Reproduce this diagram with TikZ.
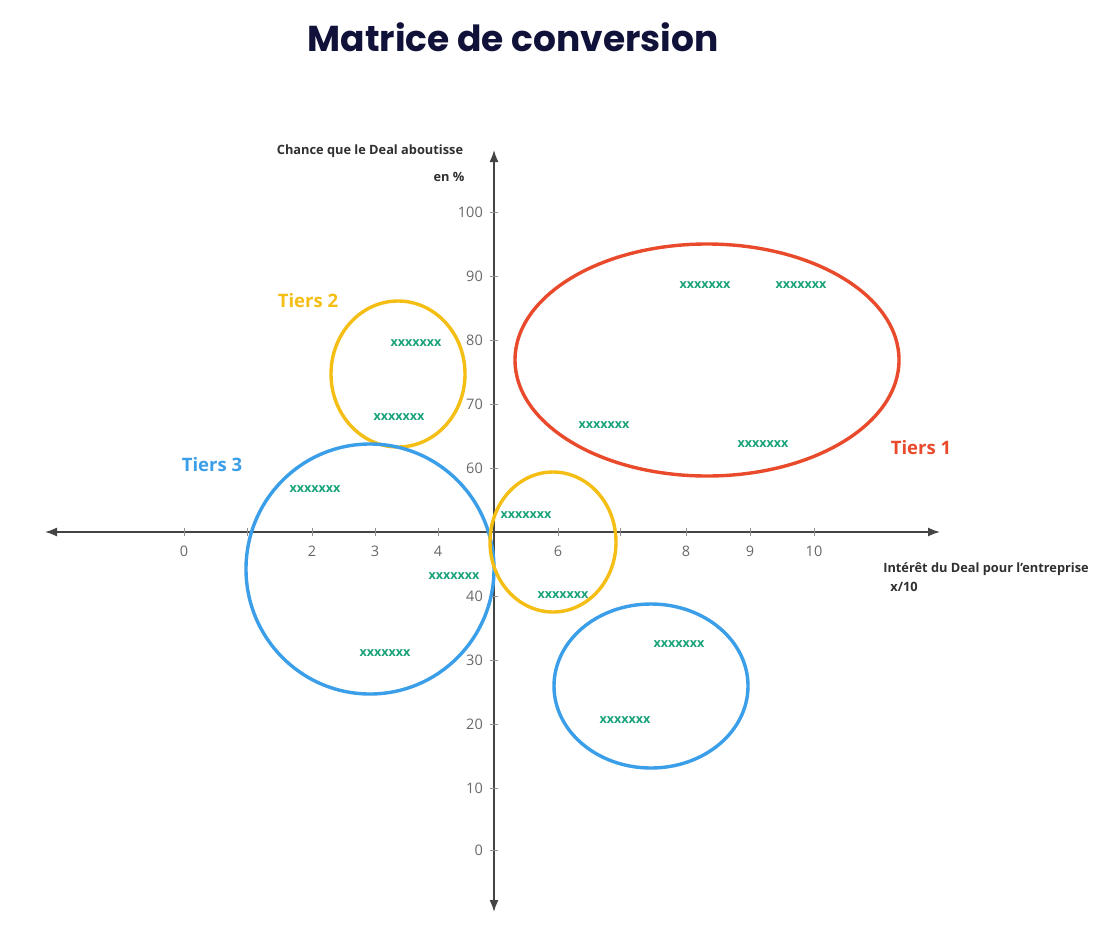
\documentclass[tikz,border=0pt]{standalone}
\usepackage{fontspec}
\setmainfont{Open Sans}
\newfontfamily\titlefont{Poppins}
\usetikzlibrary{arrows.meta}
\definecolor{navy}{HTML}{11123A}
\definecolor{tred}{HTML}{EA4A2C}
\definecolor{tyel}{HTML}{F5BE14}
\definecolor{tblue}{HTML}{3A9EE8}
\definecolor{tgreen}{HTML}{1AA37A}
\definecolor{axis}{HTML}{444444}
\tikzset{
 item/.style={text=tgreen,font=\fontsize{12.6}{14}\selectfont\bfseries,inner sep=0pt},
 tick/.style={text=axis!80,font=\fontsize{14.5}{16}\selectfont,inner sep=0pt},
 ring/.style={line width=3.4pt},
 tier/.style={font=\fontsize{18.5}{21}\selectfont\bfseries,inner sep=0pt},
 atitle/.style={text=axis!70!black,font=\fontsize{12.8}{14}\selectfont\bfseries,inner sep=0pt}
}
\begin{document}
\begin{tikzpicture}[x=1pt,y=-1pt]
\useasboundingbox[fill=white] (0,0) rectangle (1115,950);
\node[font=\titlefont\fontsize{36}{40}\selectfont\bfseries,text=navy] (title) at (513,37) {Matrice de conversion};
% axes
\coordinate (xl) at (45,532); \coordinate (xr) at (940,532);
\coordinate (yt) at (494,150); \coordinate (yb) at (494,912);
\draw[axis,line width=1.6pt,{Latex[length=12pt,width=9pt]}-{Latex[length=12pt,width=9pt]}] (xl) -- (xr);
\draw[axis,line width=1.6pt,{Latex[length=12pt,width=9pt]}-{Latex[length=12pt,width=9pt]}] (yb) -- (yt);
\foreach \x in {184,247,312,375,438,558,620,686,750,814}
  \draw[axis!60] (\x,528) -- (\x,536);
\foreach \y in {212,276,340,404,468,596,660,724,788,850}
  \draw[axis!60] (490,\y) -- (498,\y);
\foreach \x/\t in {184/0,312/2,375/3,438/4,558/6,686/8,750/9,814/10}
  \node[tick] at (\x,551) {\t};
\foreach \y/\t in {212/100,276/90,340/80,404/70,468/60,596/40,660/30,724/20,788/10,850/0}
  \node[tick,anchor=east] at (483,\y) {\t};
\node[atitle] (yl1) at (370,151) {Chance que le Deal aboutisse};
\node[atitle] (yl2) at (449,177) {en \%};
\node[atitle] (xl1) at (986,569) {Intérêt du Deal pour l'entreprise};
\node[atitle] (xl2) at (904,587) {x/10};
% rings
\draw[ring,tred] (707,360) ellipse [x radius=192,y radius=116];
\draw[ring,tyel] (398,374) ellipse [x radius=67,y radius=73];
\draw[ring,tblue] (370,569) ellipse [x radius=124,y radius=125];
\draw[ring,tyel] (553,542) ellipse [x radius=63,y radius=70];
\draw[ring,tblue] (651,686) ellipse [x radius=97,y radius=82];
% tiers
\node[tier,text=tyel] (t2) at (308,301) {Tiers 2};
\node[tier,text=tblue] (t3) at (212,465) {Tiers 3};
\node[tier,text=tred] (t1) at (921,448) {Tiers 1};
% items
\foreach \x/\y [count=\i] in {705/285,801/285,416/343,399/417,604/425,763/444,315/489,526/515,454/576,563/595,385/653,679/644,625/720}
  \node[item] (i\i) at (\x,\y) {xxxxxxx};
\end{tikzpicture}
\end{document}
